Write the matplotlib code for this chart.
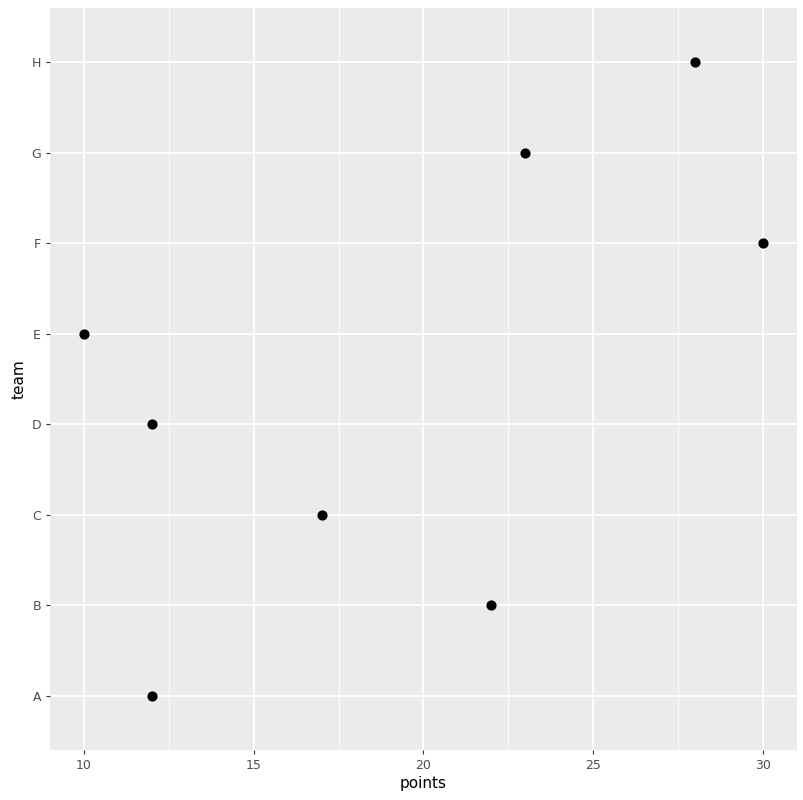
import matplotlib
matplotlib.use("Agg")
import matplotlib.pyplot as plt

teams = ["A", "B", "C", "D", "E", "F", "G", "H"]
points = [12, 22, 17, 12, 10, 30, 23, 28]
x_ticks = [10, 15, 20, 25, 30]

fig = plt.figure(figsize=(8.04, 8.0), dpi=100)
ax = fig.add_axes([50 / 804, 50 / 800, 747 / 804, 742 / 800])
ax.set_facecolor("#EBEBEB")

ypos = list(range(1, len(teams) + 1))
ax.scatter(points, ypos, s=40, color="black", zorder=3)

ax.set_xlim(9.0, 31.0)
ax.set_ylim(0.4, 8.6)
ax.set_xticks(x_ticks)
ax.set_xticks([12.5, 17.5, 22.5, 27.5], minor=True)
ax.set_yticks(ypos)
ax.set_yticklabels(teams)

ax.grid(which="major", color="white", linewidth=1.3)
ax.grid(which="minor", axis="x", color="white", linewidth=0.6)
ax.set_axisbelow(True)
for s in ax.spines.values():
    s.set_visible(False)
ax.tick_params(which="major", colors="#333333", labelcolor="#4D4D4D",
               labelsize=9, length=3)
ax.tick_params(which="minor", length=0)

ax.set_xlabel("points", fontsize=11, labelpad=3)
ax.set_ylabel("team", fontsize=11, labelpad=3)

fig.savefig("out.png", dpi=100)
